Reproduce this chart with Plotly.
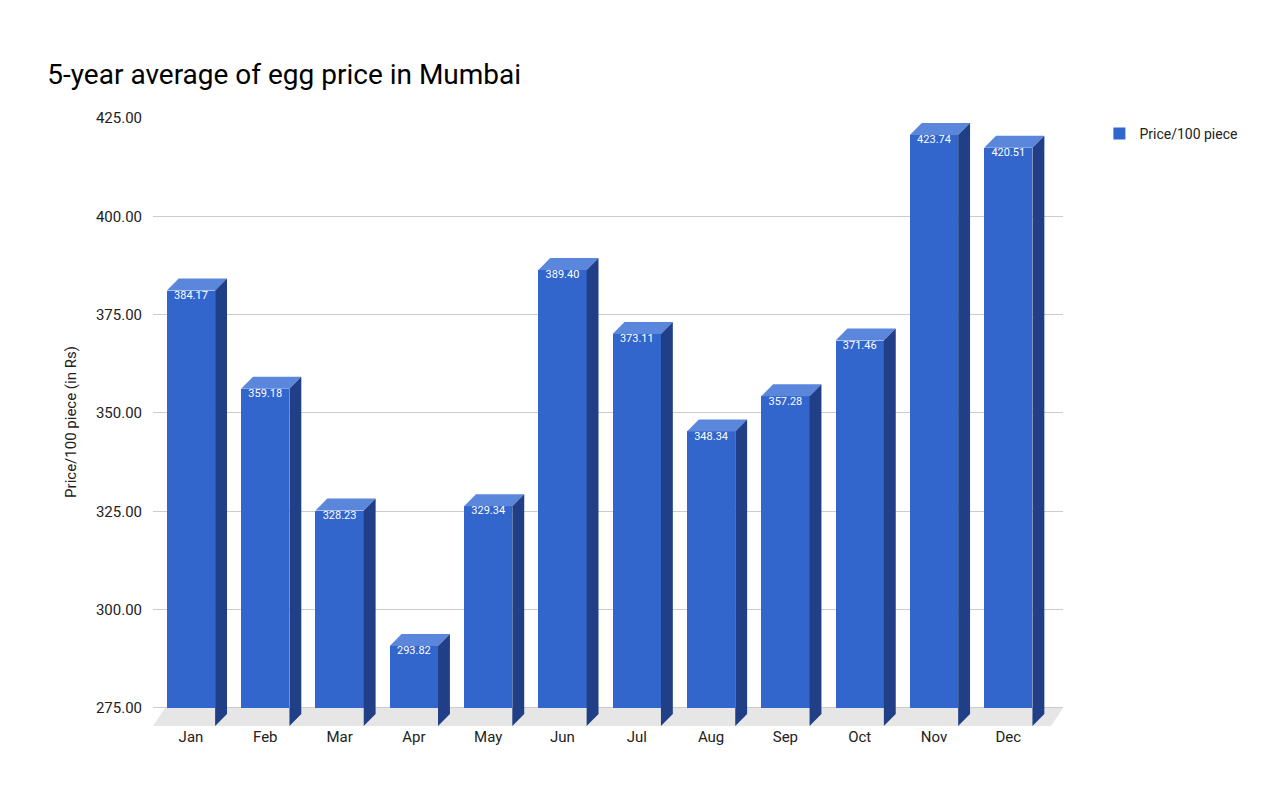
import plotly.graph_objects as go

months = ["Jan", "Feb", "Mar", "Apr", "May", "Jun", "Jul", "Aug", "Sep", "Oct", "Nov", "Dec"]
prices = [384.17, 359.18, 328.23, 293.82, 329.34, 389.40, 373.11, 348.34, 357.28, 371.46, 423.74, 420.51]
y_ticks = [275, 300, 325, 350, 375, 400, 425]

FRONT = "#3366cc"
TOP = "#5a86db"
SIDE = "#213f87"
BASE = 270.4
DY = 3.05   # depth in y units
DX = 0.16   # depth in x units
W = 0.65
X_MIN, X_MAX = -0.511, 11.736

fig = go.Figure()

# floor
fig.add_trace(go.Scatter(
    x=[X_MIN, X_MIN + 0.16, X_MAX, X_MAX - 0.16, X_MIN],
    y=[BASE, 275, 275, BASE, BASE],
    fill="toself", fillcolor="#e6e6e6", line=dict(width=0),
    mode="lines", showlegend=False, hoverinfo="skip"))

xs = list(range(len(months)))
fig.add_trace(go.Bar(
    x=xs, y=[p - DY - BASE for p in prices], base=BASE, width=W,
    marker=dict(color=FRONT, line=dict(width=0)),
    name="Price/100 piece", showlegend=True))

for i, p in zip(xs, prices):
    l, r = i - W / 2, i + W / 2
    fig.add_trace(go.Scatter(
        x=[l, l + DX, r + DX, r, l], y=[p - DY, p, p, p - DY, p - DY],
        fill="toself", fillcolor=TOP, line=dict(width=0),
        mode="lines", showlegend=False, hoverinfo="skip"))
    fig.add_trace(go.Scatter(
        x=[r, r + DX, r + DX, r, r], y=[p - DY, p, BASE + DY, BASE, p - DY],
        fill="toself", fillcolor=SIDE, line=dict(width=0),
        mode="lines", showlegend=False, hoverinfo="skip"))

fig.add_trace(go.Scatter(
    x=xs, y=[p - DY for p in prices], mode="text",
    text=[f"{p:.2f}" for p in prices], textposition="bottom center",
    textfont=dict(color="white", size=11), showlegend=False, hoverinfo="skip"))

fig.update_layout(
    width=1269, height=785,
    paper_bgcolor="white", plot_bgcolor="white",
    font=dict(family="Roboto", color="#222222"),
    title=dict(text="5-year average of egg price in Mumbai", x=0.031, y=0.928,
               xanchor="left", font=dict(size=28, color="#000000")),
    margin=dict(l=145, r=214, t=110, b=67),
    legend=dict(x=1.04, y=1.0, xanchor="left", yanchor="top",
                font=dict(size=14, color="#222222")),
    bargap=0,
    xaxis=dict(range=[X_MIN, X_MAX], tickvals=xs, ticktext=months, showgrid=False,
               zeroline=False, showline=False, ticks="", tickfont=dict(size=15)),
    yaxis=dict(range=[BASE, 425], tickvals=y_ticks, tickformat=".2f",
               gridcolor="#cccccc", zeroline=False, showline=False,
               tickfont=dict(size=15), ticklabelstandoff=10,
               title=dict(text="Price/100 piece (in Rs)", font=dict(size=15), standoff=15)),
)

fig.write_html("out.html")
